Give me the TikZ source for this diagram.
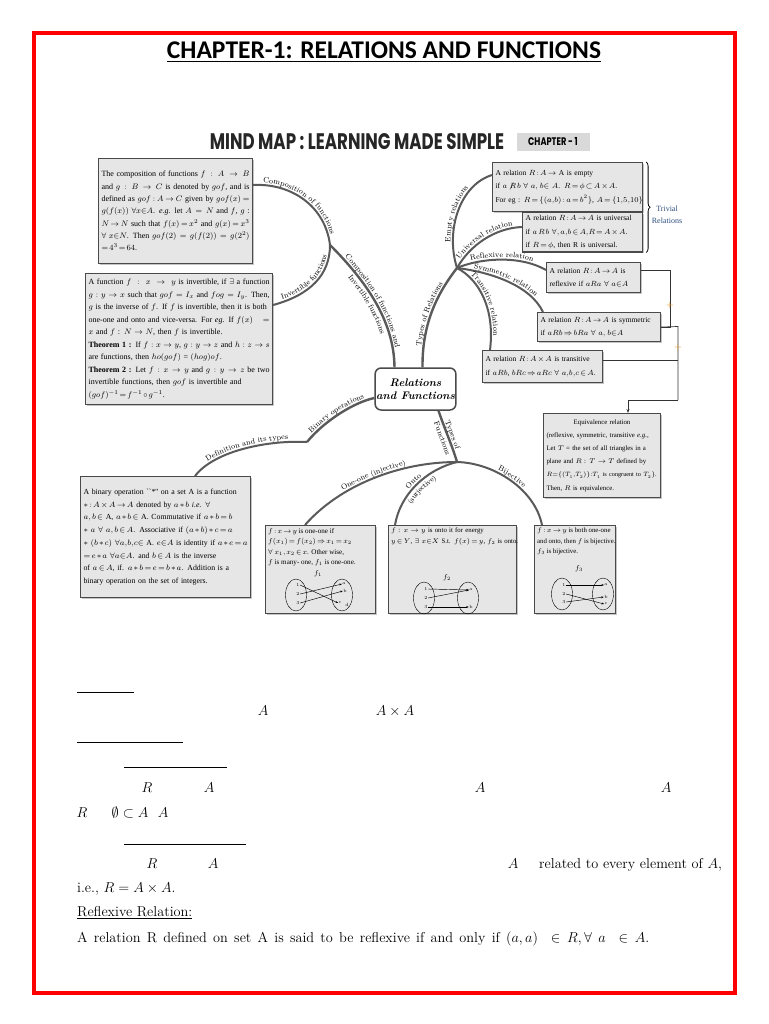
\documentclass[tikz,border=0pt]{standalone}
\usepackage{fix-cm}
\usepackage{amsmath,amssymb}
\usepackage{fontspec}
\usetikzlibrary{decorations.text,decorations.pathreplacing,shapes.geometric,arrows.meta,shadows}
\newfontfamily\titlefont{Carlito}
\newfontfamily\comicfont{Poppins}
\newfontfamily\boxfont{Liberation Serif}
\definecolor{boxfill}{HTML}{E6E6E6}
\definecolor{boxdraw}{HTML}{4A4A4A}
\definecolor{brgray}{HTML}{5A5A5A}
\definecolor{trivblue}{HTML}{2F4F7F}
\definecolor{plusor}{HTML}{E8A040}
\definecolor{chapgray}{HTML}{D9D9D9}
\newcommand\tightmath{\thinmuskip=2mu\medmuskip=2mu plus 1mu\thickmuskip=2.5mu plus 2mu}
\newcommand\bxf{\boxfont\tightmath\fontsize{8}{12.3}\selectfont}
\newcommand\bxi{\boxfont\tightmath\fontsize{8}{12.5}\selectfont}
\newcommand\bxb{\boxfont\tightmath\fontsize{7.8}{12.7}\selectfont}
\newcommand\bxr{\boxfont\tightmath\fontsize{7.5}{13.4}\selectfont}
\newcommand\bxs{\boxfont\tightmath\fontsize{7.1}{10.4}\selectfont}
\newcommand\bxt{\boxfont\tightmath\fontsize{6.8}{10.4}\selectfont}
\newcommand\bxe{\boxfont\tightmath\fontsize{6.8}{13.2}\selectfont}
\newcommand\lblf{\fontsize{7.6}{8}\selectfont}
\newcommand\bodyf{\fontsize{14.3}{17}\selectfont}
\newcommand\jl[1]{\makebox[\linewidth][s]{#1}}
\tikzset{
  mbox/.style={draw=boxdraw, line width=1.1pt, fill=boxfill, inner sep=3pt, anchor=north west, align=left,
    drop shadow={shadow xshift=1.2pt, shadow yshift=-1.2pt, fill=black!45}},
  branch/.style={draw=brgray, line width=2pt},
  lbl/.style 2 args={postaction={decorate, decoration={text along path, text={|\lblf|#1}, text align=center, raise=#2}}},
  conn/.style={draw=black!80, line width=0.7pt},
  elt/.style={font=\fontsize{4.5}{5}\selectfont, inner sep=0.4pt},
  ell/.style={draw, ellipse, minimum width=21pt, minimum height=32pt, inner sep=0pt},
  marr/.style={-{Stealth[length=2.5pt,width=2pt]}, line width=0.45pt},
  bodyl/.style={font=\bodyf, anchor=base, inner sep=0pt},
  bodyw/.style={font=\bodyf, anchor=base west, inner sep=0pt},
  uline/.style={line width=0.8pt}
}
\begin{document}
\begin{tikzpicture}[x=1pt,y=-1pt]
\useasboundingbox (0,0) rectangle (768,1024);
\fill[white] (0,0) rectangle (768,1024);
\draw[red, line width=4pt] (34,33) rectangle (735,993);

% titles
\node[font=\titlefont\bfseries\fontsize{25.5}{28}\selectfont, inner sep=0pt] (title) at (384,50) {CHAPTER-1: RELATIONS AND FUNCTIONS};
\draw[line width=1.4pt] ([yshift=-3.5pt]title.base west) -- ([yshift=-3.5pt]title.base east);
\node[font=\comicfont\bfseries\fontsize{22.5}{24}\selectfont, text=black!85, inner sep=0pt] (mm) at (357,142) {\scalebox{0.74}[1]{MIND MAP : LEARNING MADE SIMPLE}};
\node[fill=chapgray, font=\comicfont\bfseries\fontsize{11}{12}\selectfont, minimum width=73pt, minimum height=18pt, inner sep=0pt] (chap) at (553,142) {\scalebox{0.75}[1]{CHAPTER - 1}};

% center
\node[draw=boxdraw, line width=1.5pt, rounded corners=6pt, fill=white, minimum width=75pt, minimum height=42pt, align=center, inner sep=1pt,
  font=\fontsize{11}{13}\selectfont\bfseries\itshape] (rf) at (415.5,389) {Relations\\and Functions};

% left boxes
\node[mbox, font=\bxf, text width=148pt, minimum height=105pt] (comp) at (98,158) {\jl{The composition of functions $f : A \to B$}\\
\jl{and $g : B \to C$ is denoted by $gof$, and is}\\
\jl{defined as $gof : A \to C$ given by $gof(x) =$}\\
\jl{$g(f(x))\ \forall x{\in}A$. \textit{e.g.} let $A = N$ and $f$, $g$ :}\\
\jl{$N \to N$ such that $f(x) = x^2$ and $g(x) = x^3$}\\
\jl{$\forall\ x{\in}N$. Then $gof(2) = g(f(2)) = g(2^2)$}\\
$= 4^3 = 64$.};

\node[mbox, font=\bxi, text width=181pt, minimum height=131pt] (inv) at (85,273) {\jl{A function $f : x \to y$ is invertible, if $\exists$ a function}\\
\jl{$g : y \to x$ such that $gof = I_x$ and $fog = I_y$. Then,}\\
\jl{$g$ is the inverse of $f$. If $f$ is invertible, then it is both}\\
\jl{one-one and onto and vice-versa. For \textit{eg.} If $f(x) =$}\\
\jl{$x$ and $f$ : $N$ $\to$ $N$, then $f$ is invertible.}\\
\jl{\textbf{Theorem 1 :} If $f : x \to y$, $g : y \to z$ and $h : z \to s$}\\
\jl{are functions, then $ho(gof)$ = $(hog)of$.}\\
\jl{\textbf{Theorem 2 :} Let $f : x \to y$ and $g : y \to z$ be two}\\
\jl{invertible functions, then $gof$ is invertible and}\\
$(gof)^{-1} = f^{-1} \circ g^{-1}$.};

\node[mbox, font=\bxb, text width=164pt, minimum height=121pt] (bin) at (80,476) {\mbox{A binary operation ``*'' on a set A is a function}\\
\mbox{$* : A \times A \to A$ denoted by $a * b$ \textit{i.e.} $\forall$}\\
\mbox{$a,b \in$ A, $a * b \in$ A. Commutative if $a * b = b$}\\
\mbox{$*\ a\ \forall\ a,b \in A$. Associative if $(a * b) * c = a$}\\
\mbox{$*\ (b * c)\ \forall a{,}b{,}c{\in}$ A. $e{\in}A$ is identity if $a * e = a$}\\
\mbox{$= e * a\ \forall a{\in}A$. and $b \in A$ is the inverse}\\
\mbox{of $a \in A$, if. $a * b = e = b * a$. Addition is a}\\
\mbox{binary operation on the set of integers.}};

% function boxes
\node[mbox, text width=104pt, minimum height=88pt] (one) at (265,525) {};
\node[mbox, text width=122pt, minimum height=88pt] (onto) at (388,525) {};
\node[mbox, text width=75pt, minimum height=88pt] (bij) at (534,525) {};
\node[font=\bxs, anchor=north west, align=left, inner sep=0pt] (onet) at (268,528) {$f : x \to y$ is one-one if\\
$f(x_1) = f(x_2) \Rightarrow x_1 = x_2$\\
$\forall\ x_1, x_2 \in x$. Other wise,\\
$f$ is many- one, $f_1$ is one-one.};
\node[font=\bxt, anchor=north west, align=left, text width=121pt, inner sep=0pt] (ontot) at (391,528) {\jl{$f$ : $x$ $\to$ $y$ is onto it for energy}\\
\jl{$y \in Y$, $\exists\ x{\in}X$ S.t. $f(x) = y$, $f_2$ is onto.}};
\node[font=\bxt, anchor=north west, align=left, inner sep=0pt] (bijt) at (537,528) {$f : x \to y$ is both one-one\\
and onto, then $f$ is bijective.\\
$f_3$ is bijective.};

% f1 diagram
\node[font=\bxs, inner sep=0pt] (f1) at (318,574) {$f_1$};
\node[ell] (e1l) at (296,595) {};
\node[ell] (e1r) at (342,595) {};
\node[elt] (o1) at (298,585) {1};
\node[elt] (o2) at (298,594) {2};
\node[elt] (o3) at (298,603) {3};
\node[elt] (oa) at (344,584) {a};
\node[elt] (ob) at (345,591) {b};
\node[elt] (oc) at (340,603) {c};
\node[elt] (od) at (347,605) {d};
\draw[marr] (o1.east) -- (oc.west);
\draw[marr] (o2.east) -- (oa.west);
\draw[marr] (o3.east) -- (ob.west);
% f2 diagram
\node[font=\bxs, inner sep=0pt] (f2) at (447,578) {$f_2$};
\node[ell] (e2l) at (424,598) {};
\node[ell] (e2r) at (468,598) {};
\node[elt] (p1) at (426,589) {1};
\node[elt] (p2) at (426,598) {2};
\node[elt] (p3) at (426,607) {3};
\node[elt] (pa) at (471,590) {a};
\node[elt] (pb) at (471,607) {b};
\draw[marr] (p1.east) -- (pa.west);
\draw[marr] (p2.east) -- (pa.west);
\draw[marr] (p3.east) -- (pb.west);
% f3 diagram
\node[font=\bxs, inner sep=0pt] (f3) at (579,569) {$f_3$};
\node[ell] (e3l) at (562,594) {};
\node[ell] (e3r) at (603,594) {};
\node[elt] (q1) at (564,585) {1};
\node[elt] (q2) at (564,594) {2};
\node[elt] (q3) at (564,602) {3};
\node[elt] (qa) at (606,585) {a};
\node[elt] (qb) at (606,597) {b};
\node[elt] (qc) at (606,604) {c};
\draw[marr] (q1.east) -- (qa.west);
\draw[marr] (q2.east) -- (qc.west);
\draw[marr] (q3.east) -- (qb.west);

% relation boxes
\node[mbox, font=\bxr, text width=144pt, minimum height=49pt] (empty) at (492,162) {A relation $R : A \to$ A is empty\\
\mbox{if $a \not R\, b\ \forall\ a,\, b{\in}\ A$. $R = \phi \subset A \times A$.}\\
\mbox{For eg : $R = \{(a{,}b) : a = b^2\}$, $A = \{1{,}5{,}10\}$}};
\node[mbox, font=\bxr, text width=114pt, minimum height=38pt] (univ) at (522,212) {A relation $R : A \to A$ is universal\\
\mbox{if $a\,R\,b\ \forall, a{,}b \in A{,}R = A \times A$.}\\
if $R = \phi$, then R is universal.};
\node[mbox, font=\bxr, text width=88pt, minimum height=30pt] (refl) at (546,262) {A relation $R : A \to A$ is\\
reflexive if $aRa\ \forall\ a{\in}A$};
\node[mbox, font=\bxr, text width=117pt, minimum height=29pt] (sym) at (537,312) {\mbox{A relation $R : A \to A$ is symmetric}\\
if $aRb \Rightarrow bRa\ \forall\ a,\, b{\in}A$};
\node[mbox, font=\bxr, text width=114pt, minimum height=32pt] (trans) at (482,350) {\mbox{A relation $R : A \times A$ is transitive}\\
\mbox{if $aRb$, $bRc \Rightarrow aRc\ \forall\ a{,}b{,}c \in A$.}};
\node[mbox, font=\bxe, text width=111pt, minimum height=84pt] (equiv) at (543,413) {\makebox[\linewidth][c]{Equivalence relation}\\
\jl{(reflexive, symmetric, transitive \textit{e.g.},}\\
\jl{Let $T$ = the set of all triangles in a}\\
\jl{plane and $R$ : $T$ $\to$ $T$ defined by}\\
\jl{\fontsize{6.2}{13.2}\selectfont$R{=}\{(T_1{,}T_2)\}{:}T_1$ is congruent to $T_2\}$.}\\
Then, $R$ is equivalence.};

% trivial brace
\draw[line width=0.8pt, decorate, decoration={brace, amplitude=4pt}] ([xshift=3pt]empty.north east) -- ([xshift=3pt]univ.south east);
\node[font=\boxfont\fontsize{8}{12}\selectfont, text=trivblue, align=center, inner sep=0pt] (triv) at (667,215) {Trivial\\Relations};

% right connectors
\coordinate (rr) at ([yshift=-8pt]refl.north east);
\coordinate (tr) at ([yshift=-10pt]trans.north east);
\coordinate (k1) at (670,270);
\coordinate (k2) at (678,326.5);
\coordinate (k3) at (678,400);
\draw[conn] (rr) -- (k1) |- (sym.east);
\draw[conn] (sym.east) -- (k2) -- (k3);
\draw[conn] (tr) -- (tr -| k3);
\draw[conn, -{Stealth[length=4pt,width=3pt]}] (k3) -| ([xshift=85pt]equiv.north west);
\node[text=plusor, font=\fontsize{8}{8}\selectfont\bfseries, inner sep=0pt] (pl1) at (670,305) {+};
\node[text=plusor, font=\fontsize{8}{8}\selectfont\bfseries, inner sep=0pt] (pl2) at (678,347) {+};

% junctions
\coordinate (J1) at (330,245);
\coordinate (J2) at (457,268);
\coordinate (J3) at (457,462);
\coordinate (J4) at (307,442);

% branches
\draw[branch, line width=2.4pt, lbl={Composition of functions and}{2.5pt}, lbl={Invertible functions}{-8.5pt}] (J1) .. controls (365,280) and (394,320) .. ([xshift=-21pt]rf.north);
\draw[branch, lbl={Composition of functions}{2.5pt}] ([yshift=-27pt]comp.north east) .. controls (290,183) and (325,205) .. (J1);
\draw[branch, lbl={Invertible functions}{2.5pt}] ([yshift=-32pt]inv.north east) .. controls (310,295) and (330,275) .. (J1);

\draw[branch, line width=2.4pt, lbl={Types of Relations}{2.5pt}] ([xshift=7pt]rf.north) .. controls (422,320) and (440,290) .. (J2);
\draw[branch, lbl={Empty relations}{2.5pt}] (J2) .. controls (445,230) and (460,185) .. ([yshift=-13pt]empty.north west);
\draw[branch, lbl={Universal relation}{2.5pt}] (J2) .. controls (470,245) and (495,228) .. ([yshift=-15pt]univ.north west);
\draw[branch, lbl={Reflexive relation}{2.5pt}] (J2) .. controls (480,258) and (520,255) .. ([yshift=-8pt]refl.north west);
\draw[branch, lbl={Symmetric relation}{2.5pt}] (J2) .. controls (490,272) and (530,285) .. ([xshift=6pt]sym.north west);
\draw[branch, lbl={Transitive relation}{2.5pt}] (J2) .. controls (480,280) and (495,310) .. ([xshift=8pt]trans.north west);

\draw[branch, line width=2.4pt, lbl={Types of}{2.5pt}, lbl={Functions}{-8.5pt}] ([xshift=23pt]rf.south) .. controls (445,430) and (452,445) .. (J3);
\draw[branch, lbl={One-one (injective)}{2.5pt}] ([xshift=40pt]one.north west) .. controls (340,485) and (400,462) .. (J3);
\draw[branch, lbl={Onto}{2.5pt}, lbl={(surjective)}{-8.5pt}] ([xshift=7pt]onto.north west) .. controls (400,495) and (425,470) .. (J3);
\draw[branch, lbl={Bijective}{2.5pt}] (J3) .. controls (495,463) and (535,490) .. ([xshift=8pt]bij.north west);

\draw[branch, line width=2.4pt, lbl={Binary operations}{2.5pt}] (J4) .. controls (325,420) and (355,402) .. ([yshift=-9pt]rf.west);
\draw[branch, lbl={Definition and its types}{2.5pt}] ([xshift=115pt]bin.north west) .. controls (215,450) and (270,440) .. (J4);

% lower text
\draw[uline] (77,692) -- (134,692);
\node[bodyl] (rA1) at (263,715) {$A$};
\node[bodyl] (rAA) at (395,715) {$A \times A$};
\draw[uline] (77,742) -- (183,742);
\draw[uline] (124,767) -- (227,767);
\node[bodyl] (r2R) at (147,792) {$R$};
\node[bodyl] (r2A) at (209,792) {$A$};
\node[bodyl] (r2B) at (480,792) {$A$};
\node[bodyl] (r2C) at (666,792) {$A$};
\node[bodyl] (r3R) at (82,817) {$R$};
\node[bodyl] (r3E) at (130,817) {$\emptyset \subset A$};
\node[bodyl] (r3A) at (163,817) {$A$};
\draw[uline] (124,844) -- (246,844);
\node[bodyl] (r4R) at (152,868) {$R$};
\node[bodyl] (r4A) at (213,868) {$A$};
\node[bodyl] (r4B) at (513,868) {$A$};
\node[bodyw] (r4t) at (539,868) {related to every element of $A$,};
\node[bodyw] (r5) at (77,892) {i.e., $R = A \times A$.};
\node[bodyw] (r6) at (77,916) {\underline{Reflexive Relation:}};
\node[bodyw] (r7) at (77,942) {\makebox[572pt][s]{A relation R defined on set A is said to be reflexive if and only if $(a, a)\ \in R, \forall\ a\ \in A$.}};
\end{tikzpicture}
\end{document}
